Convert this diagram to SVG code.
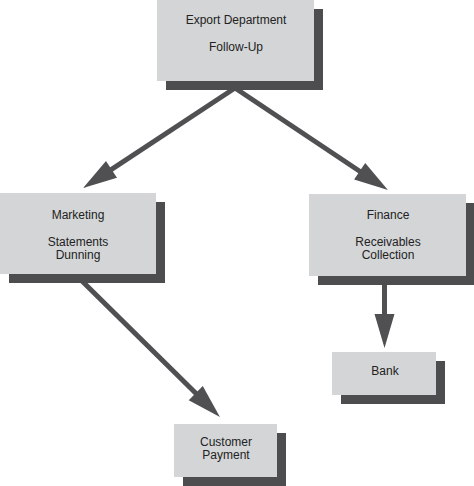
<svg xmlns="http://www.w3.org/2000/svg" width="474" height="486" viewBox="0 0 474 486">
<style>
.box{fill:#d4d5d7}
.sh{fill:#4d4d4f}
.t{font-family:"Liberation Sans",Arial,sans-serif;font-size:12px;fill:#222;text-anchor:middle}
.c{stroke:#505052;stroke-width:5;fill:none}
</style>
<defs>
<marker id="ah" markerUnits="userSpaceOnUse" orient="auto" markerWidth="40" markerHeight="30" refX="14" refY="0" viewBox="0 -15 40 30" overflow="visible">
<path d="M0,-10 L34,0 L0,10 z" fill="#505052"/>
</marker>
</defs>
<rect width="474" height="486" fill="#fff"/>
<g id="connectors">
<line class="c" x1="235" y1="88" x2="99.8" y2="177.1" marker-end="url(#ah)"/>
<line class="c" x1="235" y1="88" x2="371.3" y2="179" marker-end="url(#ah)"/>
<line class="c" x1="82" y1="281" x2="205.7" y2="403" marker-end="url(#ah)"/>
<line class="c" x1="384.5" y1="283" x2="384.5" y2="328" marker-end="url(#ah)"/>
</g>
<g id="export">
<rect class="sh" x="166" y="9" width="157" height="81"/>
<rect class="box" x="157" y="0" width="157" height="81"/>
<text class="t" x="236" y="23.5">Export Department</text>
<text class="t" x="236" y="50.5">Follow-Up</text>
</g>
<g id="marketing">
<rect class="sh" x="9" y="202" width="156" height="81"/>
<rect class="box" x="0" y="193" width="156" height="81"/>
<text class="t" x="78" y="218.5">Marketing</text>
<text class="t" x="78" y="245.5">Statements</text>
<text class="t" x="78" y="258.5">Dunning</text>
</g>
<g id="finance">
<rect class="sh" x="318" y="203" width="157" height="82"/>
<rect class="box" x="309" y="194" width="157" height="82"/>
<text class="t" x="388" y="219">Finance</text>
<text class="t" x="388" y="246">Receivables</text>
<text class="t" x="388" y="259">Collection</text>
</g>
<g id="bank">
<rect class="sh" x="341" y="361" width="104" height="43"/>
<rect class="box" x="332" y="352" width="104" height="43"/>
<text class="t" x="385" y="375">Bank</text>
</g>
<g id="customer">
<rect class="sh" x="183" y="433" width="103" height="53"/>
<rect class="box" x="174" y="424" width="103" height="53"/>
<text class="t" x="226" y="446">Customer</text>
<text class="t" x="226" y="458.5">Payment</text>
</g>
</svg>
